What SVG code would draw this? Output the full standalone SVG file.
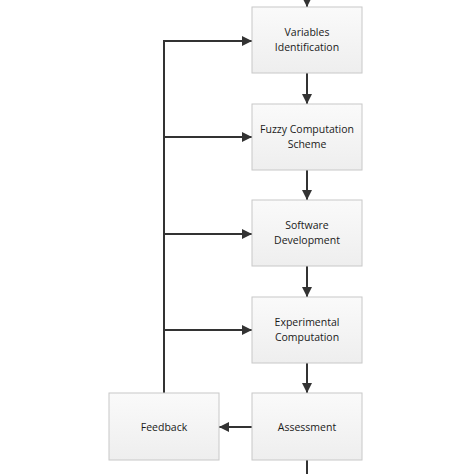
<svg xmlns="http://www.w3.org/2000/svg" width="474" height="474" viewBox="0 0 474 474">
<defs>
<linearGradient id="g" x1="0" y1="0" x2="0" y2="1">
<stop offset="0" stop-color="#fafafa"/>
<stop offset="1" stop-color="#eeeeee"/>
</linearGradient>
<marker id="ah" viewBox="0 0 10 10" refX="10" refY="5" markerWidth="10" markerHeight="10" markerUnits="userSpaceOnUse" orient="auto">
<path d="M0,0 L10,5 L0,10 z" fill="#333"/>
</marker>
<style>
.box{fill:url(#g);stroke:#c8c8c8;stroke-width:1}
.t{font-family:"Open Sans","Noto Sans",sans-serif;font-size:10.5px;fill:#1a1a1a;text-anchor:middle}
.c{stroke:#333;stroke-width:2;fill:none}
</style>
</defs>
<rect width="474" height="474" fill="#fff"/>
<g id="connectors">
<path class="c" d="M307,0 V7" marker-end="url(#ah)"/>
<path class="c" d="M307,73 V104" marker-end="url(#ah)"/>
<path class="c" d="M307,170 V200" marker-end="url(#ah)"/>
<path class="c" d="M307,266 V297" marker-end="url(#ah)"/>
<path class="c" d="M307,363 V393" marker-end="url(#ah)"/>
<path class="c" d="M307,460 V474"/>
<path class="c" d="M252,427 H219" marker-end="url(#ah)"/>
<path class="c" d="M164,393 V41"/>
<path class="c" d="M163,41 H252" marker-end="url(#ah)"/>
<path class="c" d="M163,137 H252" marker-end="url(#ah)"/>
<path class="c" d="M163,234 H252" marker-end="url(#ah)"/>
<path class="c" d="M163,330 H252" marker-end="url(#ah)"/>
</g>
<g id="n1"><rect class="box" x="252" y="7" width="110" height="66"/><text class="t" x="307" y="36">Variables</text><text class="t" x="307" y="51">Identification</text></g>
<g id="n2"><rect class="box" x="252" y="104" width="110" height="66"/><text class="t" x="307" y="133">Fuzzy Computation</text><text class="t" x="307" y="148">Scheme</text></g>
<g id="n3"><rect class="box" x="252" y="200" width="110" height="66"/><text class="t" x="307" y="229">Software</text><text class="t" x="307" y="244">Development</text></g>
<g id="n4"><rect class="box" x="252" y="297" width="110" height="66"/><text class="t" x="307" y="326">Experimental</text><text class="t" x="307" y="341">Computation</text></g>
<g id="n5"><rect class="box" x="252" y="393" width="110" height="67"/><text class="t" x="307" y="431">Assessment</text></g>
<g id="n6"><rect class="box" x="109" y="393" width="110" height="67"/><text class="t" x="164" y="431">Feedback</text></g>
</svg>
